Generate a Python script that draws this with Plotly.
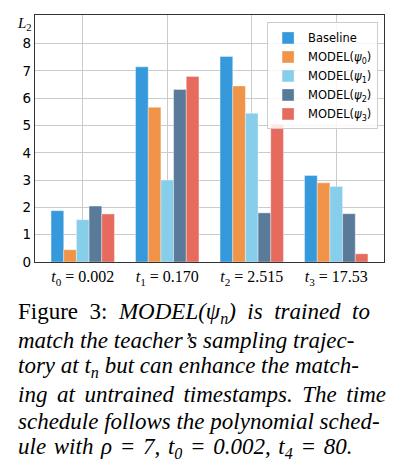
import plotly.graph_objects as go

# timestamps (x categories) and L2 values
categories = ['<i>t</i><sub>0</sub> = 0.002', '<i>t</i><sub>1</sub> = 0.170',
              '<i>t</i><sub>2</sub> = 2.515', '<i>t</i><sub>3</sub> = 17.53']
baseline = [1.88, 7.15, 7.53, 3.17]
model_psi0 = [0.45, 5.67, 6.45, 2.90]
model_psi1 = [1.55, 3.00, 5.45, 2.77]
model_psi2 = [2.05, 6.32, 1.80, 1.77]
model_psi3 = [1.76, 6.80, 5.05, 0.30]
y_ticks = [0, 1, 2, 3, 4, 5, 6, 7, 8]

series_names = ['Baseline',
                'MODEL(<i>ψ</i><sub>0</sub>)',
                'MODEL(<i>ψ</i><sub>1</sub>)',
                'MODEL(<i>ψ</i><sub>2</sub>)',
                'MODEL(<i>ψ</i><sub>3</sub>)']
series_colors = ['#3699db', '#f0944a', '#87ceeb', '#5a7a99', '#e66b5d']

# caption lines, with the word gap that roughly justifies each line
caption_lines = [
    ('Figure 3: <i>MODEL(ψ<sub>n</sub>) is trained to</i>', ' \u2005'),
    ("<i>match the teacher’s sampling trajec-</i>", ' '),
    ('<i>tory at t<sub>n</sub> but can enhance the match-</i>', ' '),
    ('<i>ing at untrained timestamps. The time</i>', ' \u2006'),
    ('<i>schedule follows the polynomial sched-</i>', ' '),
    ('<i>ule with ρ = 7, t<sub>0</sub> = 0.002, t<sub>4</sub> = 80.</i>', ' \u200a'),
]

# page has an 8px body margin, so the figure is shrunk to fit the window
W, H = 407, 463
ML, MR, MT, MB = 27, 31, 7, 209
PW = W - ML - MR

fig = go.Figure()
for name, vals, col in zip(series_names,
                           [baseline, model_psi0, model_psi1, model_psi2, model_psi3],
                           series_colors):
    fig.add_trace(go.Bar(x=categories, y=vals, name=name,
                         marker=dict(color=col, line=dict(color='rgba(255,255,255,0.6)', width=0.6))))

fig.update_layout(
    width=W, height=H,
    margin=dict(l=ML, r=MR, t=MT, b=MB),
    paper_bgcolor='white', plot_bgcolor='white',
    barmode='group', bargap=0.25, bargroupgap=0,
    font=dict(family='DejaVu Sans', color='black', size=12),
    showlegend=True,
    legend=dict(x=0.983, xanchor='right', y=0.97, yanchor='top',
                bgcolor='rgba(255,255,255,0.85)', bordercolor='#cccccc', borderwidth=1,
                font=dict(family='DejaVu Sans', size=11.5), tracegroupgap=0),
)
fig.update_xaxes(range=[-0.565, 3.565], showgrid=True, gridcolor='#cbcbcb', gridwidth=1,
                 showline=True, linecolor='#333333', linewidth=1.3, mirror=True,
                 ticks='', tickfont=dict(family='Liberation Serif', size=16))
fig.update_yaxes(range=[0, 9.05], tickvals=y_ticks, showgrid=True, gridcolor='#cbcbcb', gridwidth=1,
                 showline=True, linecolor='#333333', linewidth=1.3, mirror=True,
                 ticks='', zeroline=False, tickfont=dict(family='DejaVu Sans', size=13.5))

# y-axis label sitting just under the top-left corner
fig.add_annotation(text='<i>L</i><sub>2</sub>', xref='paper', yref='paper', x=0, y=1,
                   xanchor='right', yanchor='middle', xshift=-1, yshift=-9, showarrow=False,
                   font=dict(family='Liberation Serif', size=15))

# caption
for i, (line, gap) in enumerate(caption_lines):
    fig.add_annotation(text=line.replace(' ', gap), xref='paper', yref='paper',
                       x=(8 - ML) / PW, xanchor='left',
                       y=0, yanchor='middle', yshift=-(313 - 262) - i * 27,
                       showarrow=False, align='left',
                       font=dict(family='Liberation Serif', size=23))

fig.write_html('out.html')
